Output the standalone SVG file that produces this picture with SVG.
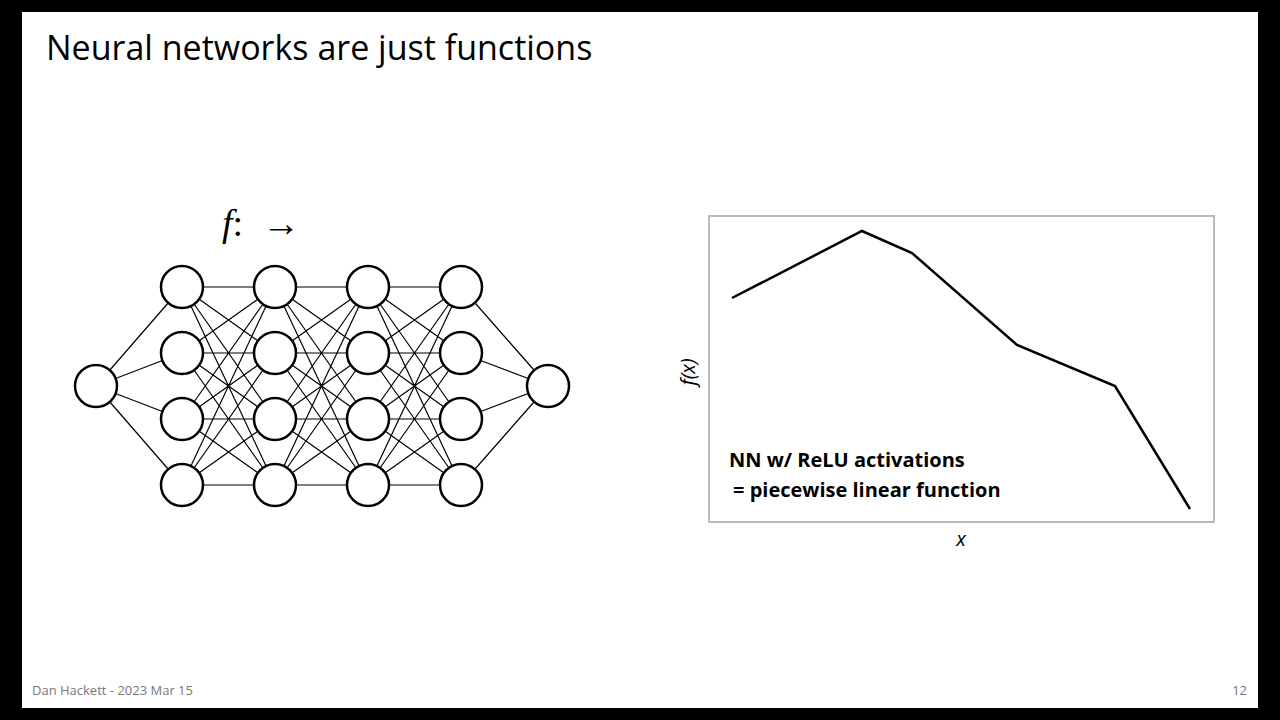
<svg xmlns="http://www.w3.org/2000/svg" width="1280" height="720" viewBox="0 0 1280 720">
<style>
.n{fill:#fff;stroke:#000;stroke-width:2.5}
.e{stroke:#000;stroke-width:1.2;fill:none}
.t{font-family:"Open Sans","Liberation Sans",sans-serif}
</style>
<rect width="1280" height="720" fill="#000"/>
<rect x="22" y="12" width="1236" height="696" fill="#fff"/>
<text class="t" x="46" y="60" font-size="34">Neural networks are just functions</text>
<text x="222" y="236" font-family="Liberation Serif,serif" font-size="38"><tspan font-style="italic">f</tspan>: 𝕉 → 𝕉</text>
<g id="connectors" class="e">
<path d="M96 386L182 287M96 386L182 353M96 386L182 419M96 386L182 485"/>
<path d="M182 287L275 287M182 287L275 353M182 287L275 419M182 287L275 485M182 353L275 287M182 353L275 353M182 353L275 419M182 353L275 485M182 419L275 287M182 419L275 353M182 419L275 419M182 419L275 485M182 485L275 287M182 485L275 353M182 485L275 419M182 485L275 485"/>
<path d="M275 287L368 287M275 287L368 353M275 287L368 419M275 287L368 485M275 353L368 287M275 353L368 353M275 353L368 419M275 353L368 485M275 419L368 287M275 419L368 353M275 419L368 419M275 419L368 485M275 485L368 287M275 485L368 353M275 485L368 419M275 485L368 485"/>
<path d="M368 287L461 287M368 287L461 353M368 287L461 419M368 287L461 485M368 353L461 287M368 353L461 353M368 353L461 419M368 353L461 485M368 419L461 287M368 419L461 353M368 419L461 419M368 419L461 485M368 485L461 287M368 485L461 353M368 485L461 419M368 485L461 485"/>
<path d="M461 287L548 386M461 353L548 386M461 419L548 386M461 485L548 386"/>
</g>
<g id="nodes">
<circle class="n" cx="96" cy="386" r="21"/>
<circle class="n" cx="182" cy="287" r="21"/><circle class="n" cx="182" cy="353" r="21"/><circle class="n" cx="182" cy="419" r="21"/><circle class="n" cx="182" cy="485" r="21"/>
<circle class="n" cx="275" cy="287" r="21"/><circle class="n" cx="275" cy="353" r="21"/><circle class="n" cx="275" cy="419" r="21"/><circle class="n" cx="275" cy="485" r="21"/>
<circle class="n" cx="368" cy="287" r="21"/><circle class="n" cx="368" cy="353" r="21"/><circle class="n" cx="368" cy="419" r="21"/><circle class="n" cx="368" cy="485" r="21"/>
<circle class="n" cx="461" cy="287" r="21"/><circle class="n" cx="461" cy="353" r="21"/><circle class="n" cx="461" cy="419" r="21"/><circle class="n" cx="461" cy="485" r="21"/>
<circle class="n" cx="548" cy="386" r="21"/>
</g>
<g id="plot">
<rect x="709" y="216" width="505" height="306" fill="none" stroke="#bbb" stroke-width="2"/>
<polyline points="732,298 862,231 912,253 1017,345 1115,386 1190,509" fill="none" stroke="#000" stroke-width="2.5"/>
<text class="t" x="0" y="0" font-size="20" font-style="italic" text-anchor="middle" transform="translate(695,372) rotate(-90)">f(x)</text>
<text class="t" x="961" y="546" font-size="20" font-style="italic" text-anchor="middle">x</text>
<text class="t" x="729" y="467" font-size="20" font-weight="bold">NN w/ ReLU activations</text>
<text class="t" x="733" y="497" font-size="20" font-weight="bold">= piecewise linear function</text>
</g>
<text class="t" x="32" y="695" font-size="13" fill="#777">Dan Hackett - 2023 Mar 15</text>
<text class="t" x="1247" y="695" font-size="13" fill="#777" text-anchor="end">12</text>
</svg>
